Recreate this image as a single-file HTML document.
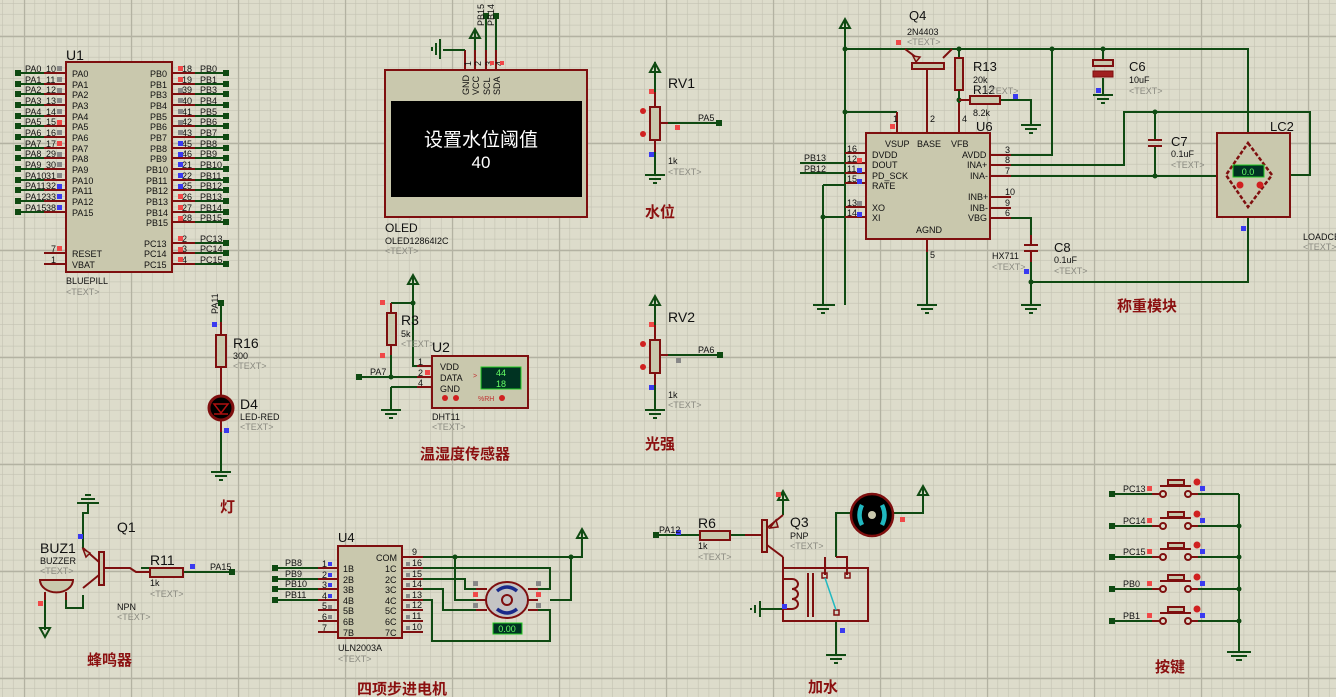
<!DOCTYPE html>
<html><head><meta charset="utf-8"><style>
html,body{margin:0;padding:0;width:1336px;height:697px;overflow:hidden;background:#dddccb}
svg{display:block}
text{font-family:"Liberation Sans","Noto Sans CJK SC",sans-serif}
.w{stroke:#0f4a12;stroke-width:2;fill:none}
.p{stroke:#7e0f0f;stroke-width:2;fill:none}
.b{stroke:#7e0f0f;stroke-width:2;fill:#c9c8ad}
.s{font-size:9px;fill:#111}
.m{font-size:10px;fill:#111}
.l{font-size:14px;fill:#111}
.t{font-size:9px;fill:#8a8a80}
.cn{font-size:15px;font-weight:bold;fill:#8b1010;font-family:"Liberation Sans","Noto Sans CJK SC",sans-serif}
.r{fill:#f04848}.bl{fill:#3a3af0}.g{fill:#888}
</style></head><body>
<svg width="1336" height="697" xmlns="http://www.w3.org/2000/svg">
<defs>
<pattern id="mn" width="10.7" height="10.7" patternUnits="userSpaceOnUse" x="3" y="4">
<path d="M10.7 0V10.7M0 10.7H10.7" stroke="#c3c2b2" stroke-width="1.2" fill="none"/></pattern>
<pattern id="mj" width="107" height="107" patternUnits="userSpaceOnUse" x="24" y="36">
<path d="M0 0V107M0 0H107" stroke="#b3b2a2" stroke-width="2.4" fill="none"/></pattern>
</defs>
<rect width="1336" height="697" fill="#dddccb"/>
<rect width="1336" height="697" fill="url(#mn)"/>
<rect width="1336" height="697" fill="url(#mj)"/>

<!-- ========== U1 BLUEPILL ========== -->
<text x="66" y="60" class="l">U1</text>
<rect x="66" y="62" width="106" height="210" class="b"/>
<g class="w">
<path d="M18 73H44M18 84H44M18 94H44M18 105H44M18 116H44M18 126H44M18 137H44M18 148H44M18 158H44M18 169H44M18 180H44M18 190H44M18 201H44M18 212H44"/>
<path d="M195 73H226M195 84H226M195 94H226M195 105H226M195 116H226M195 126H226M195 137H226M195 148H226M195 158H226M195 169H226M195 180H226M195 190H226M195 201H226M195 212H226M195 222H226M195 243H226M195 253H226M195 264H226"/>
</g>
<g class="p">
<path d="M44 73H66M44 84H66M44 94H66M44 105H66M44 116H66M44 126H66M44 137H66M44 148H66M44 158H66M44 169H66M44 180H66M44 190H66M44 201H66M44 212H66M44 253H66M44 264H66"/>
<path d="M172 73H195M172 84H195M172 94H195M172 105H195M172 116H195M172 126H195M172 137H195M172 148H195M172 158H195M172 169H195M172 180H195M172 190H195M172 201H195M172 212H195M172 222H195M172 243H195M172 253H195M172 264H195"/>
</g>
<g fill="#0f4a12">
<rect x="15" y="70" width="6" height="6"/><rect x="15" y="81" width="6" height="6"/><rect x="15" y="91" width="6" height="6"/><rect x="15" y="102" width="6" height="6"/><rect x="15" y="113" width="6" height="6"/><rect x="15" y="123" width="6" height="6"/><rect x="15" y="134" width="6" height="6"/><rect x="15" y="145" width="6" height="6"/><rect x="15" y="155" width="6" height="6"/><rect x="15" y="166" width="6" height="6"/><rect x="15" y="177" width="6" height="6"/><rect x="15" y="187" width="6" height="6"/><rect x="15" y="198" width="6" height="6"/><rect x="15" y="209" width="6" height="6"/>
<rect x="223" y="70" width="6" height="6"/><rect x="223" y="81" width="6" height="6"/><rect x="223" y="91" width="6" height="6"/><rect x="223" y="102" width="6" height="6"/><rect x="223" y="113" width="6" height="6"/><rect x="223" y="123" width="6" height="6"/><rect x="223" y="134" width="6" height="6"/><rect x="223" y="145" width="6" height="6"/><rect x="223" y="155" width="6" height="6"/><rect x="223" y="166" width="6" height="6"/><rect x="223" y="177" width="6" height="6"/><rect x="223" y="187" width="6" height="6"/><rect x="223" y="198" width="6" height="6"/><rect x="223" y="209" width="6" height="6"/><rect x="223" y="219" width="6" height="6"/><rect x="223" y="240" width="6" height="6"/><rect x="223" y="250" width="6" height="6"/><rect x="223" y="261" width="6" height="6"/>
</g>
<g class="s">
<text x="25" y="72">PA0</text><text x="25" y="83">PA1</text><text x="25" y="93">PA2</text><text x="25" y="104">PA3</text><text x="25" y="115">PA4</text><text x="25" y="125">PA5</text><text x="25" y="136">PA6</text><text x="25" y="147">PA7</text><text x="25" y="157">PA8</text><text x="25" y="168">PA9</text><text x="25" y="179">PA10</text><text x="25" y="189">PA11</text><text x="25" y="200">PA12</text><text x="25" y="211">PA15</text>
<text x="46" y="72">10</text><text x="46" y="83">11</text><text x="46" y="93">12</text><text x="46" y="104">13</text><text x="46" y="115">14</text><text x="46" y="125">15</text><text x="46" y="136">16</text><text x="46" y="147">17</text><text x="46" y="157">29</text><text x="46" y="168">30</text><text x="46" y="179">31</text><text x="46" y="189">32</text><text x="46" y="200">33</text><text x="46" y="211">38</text>
<text x="72" y="77">PA0</text><text x="72" y="88">PA1</text><text x="72" y="98">PA2</text><text x="72" y="109">PA3</text><text x="72" y="120">PA4</text><text x="72" y="130">PA5</text><text x="72" y="141">PA6</text><text x="72" y="152">PA7</text><text x="72" y="162">PA8</text><text x="72" y="173">PA9</text><text x="72" y="184">PA10</text><text x="72" y="194">PA11</text><text x="72" y="205">PA12</text><text x="72" y="216">PA15</text>
<text x="72" y="257">RESET</text><text x="72" y="268">VBAT</text><text x="51" y="252">7</text><text x="51" y="263">1</text>
<text x="150" y="77">PB0</text><text x="150" y="88">PB1</text><text x="150" y="98">PB3</text><text x="150" y="109">PB4</text><text x="150" y="120">PB5</text><text x="150" y="130">PB6</text><text x="150" y="141">PB7</text><text x="150" y="152">PB8</text><text x="150" y="162">PB9</text><text x="146" y="173">PB10</text><text x="146" y="184">PB11</text><text x="146" y="194">PB12</text><text x="146" y="205">PB13</text><text x="146" y="216">PB14</text><text x="146" y="226">PB15</text>
<text x="144" y="247">PC13</text><text x="144" y="257">PC14</text><text x="144" y="268">PC15</text>
<text x="182" y="72">18</text><text x="182" y="83">19</text><text x="182" y="93">39</text><text x="182" y="104">40</text><text x="182" y="115">41</text><text x="182" y="125">42</text><text x="182" y="136">43</text><text x="182" y="147">45</text><text x="182" y="157">46</text><text x="182" y="168">21</text><text x="182" y="179">22</text><text x="182" y="189">25</text><text x="182" y="200">26</text><text x="182" y="211">27</text><text x="182" y="221">28</text><text x="182" y="242">2</text><text x="182" y="252">3</text><text x="182" y="263">4</text>
<text x="200" y="72">PB0</text><text x="200" y="83">PB1</text><text x="200" y="93">PB3</text><text x="200" y="104">PB4</text><text x="200" y="115">PB5</text><text x="200" y="125">PB6</text><text x="200" y="136">PB7</text><text x="200" y="147">PB8</text><text x="200" y="157">PB9</text><text x="200" y="168">PB10</text><text x="200" y="179">PB11</text><text x="200" y="189">PB12</text><text x="200" y="200">PB13</text><text x="200" y="211">PB14</text><text x="200" y="221">PB15</text><text x="200" y="242">PC13</text><text x="200" y="252">PC14</text><text x="200" y="263">PC15</text>
<text x="66" y="284">BLUEPILL</text>
</g>
<text x="66" y="295" class="t">&lt;TEXT&gt;</text>
<g class="g"><rect x="57" y="66" width="5" height="5"/><rect x="57" y="77" width="5" height="5"/><rect x="57" y="88" width="5" height="5"/><rect x="57" y="98" width="5" height="5"/><rect x="57" y="109" width="5" height="5"/><rect x="57" y="130" width="5" height="5"/><rect x="57" y="152" width="5" height="5"/><rect x="57" y="162" width="5" height="5"/><rect x="57" y="173" width="5" height="5"/><rect x="178" y="88" width="5" height="5"/><rect x="178" y="98" width="5" height="5"/><rect x="178" y="109" width="5" height="5"/><rect x="178" y="120" width="5" height="5"/><rect x="178" y="130" width="5" height="5"/></g>
<g class="r"><rect x="57" y="120" width="5" height="5"/><rect x="57" y="141" width="5" height="5"/><rect x="57" y="246" width="5" height="5"/><rect x="178" y="66" width="5" height="5"/><rect x="178" y="77" width="5" height="5"/><rect x="178" y="194" width="5" height="5"/><rect x="178" y="205" width="5" height="5"/><rect x="178" y="216" width="5" height="5"/><rect x="178" y="236" width="5" height="5"/><rect x="178" y="247" width="5" height="5"/><rect x="178" y="257" width="5" height="5"/></g>
<g class="bl"><rect x="57" y="184" width="5" height="5"/><rect x="57" y="194" width="5" height="5"/><rect x="57" y="205" width="5" height="5"/><rect x="178" y="141" width="5" height="5"/><rect x="178" y="152" width="5" height="5"/><rect x="178" y="162" width="5" height="5"/><rect x="178" y="173" width="5" height="5"/><rect x="178" y="184" width="5" height="5"/></g>

<!-- ========== OLED ========== -->
<rect x="385" y="70" width="202" height="147" class="b"/>
<rect x="391" y="101" width="191" height="96" fill="#000"/>
<text x="481" y="146" text-anchor="middle" font-size="19" fill="#fff" font-family="'Noto Sans CJK SC',sans-serif">设置水位阈值</text>
<text x="481" y="168" text-anchor="middle" font-size="17" fill="#fff">40</text>
<g class="p"><path d="M465 50V70M475 50V70M486 50V70M496 50V70"/></g>
<g class="w"><path d="M465 50H443M436 43V55M440 39V59M432 47V51M475 50V30M486 50V16M496 50V16"/><path d="M470 38L475 29L480 38Z"/></g>
<rect x="483" y="13" width="6" height="6" fill="#0f4a12"/><rect x="493" y="13" width="6" height="6" fill="#0f4a12"/>
<g class="s"><text transform="translate(469,95) rotate(-90)">GND</text><text transform="translate(479,95) rotate(-90)">VCC</text><text transform="translate(490,95) rotate(-90)">SCL</text><text transform="translate(500,95) rotate(-90)">SDA</text>
<text transform="translate(484,26) rotate(-90)">PB15</text><text transform="translate(494,26) rotate(-90)">PB14</text>
<text transform="translate(471,66) rotate(-90)">1</text><text transform="translate(481,66) rotate(-90)">2</text><text transform="translate(492,66) rotate(-90)">3</text><text transform="translate(502,66) rotate(-90)">4</text></g>
<rect x="490" y="61" width="4" height="4" class="r"/><rect x="500" y="61" width="4" height="4" class="r"/>
<text x="385" y="232" font-size="12" fill="#111">OLED</text>
<text x="385" y="244" class="s">OLED12864I2C</text>
<text x="385" y="254" class="t">&lt;TEXT&gt;</text>

<!-- ========== RV1 ========== -->
<g class="w"><path d="M655 62V92M655 140V175M645 175H665M649 179H661M653 183H657M668 123H719"/><path d="M650 72L655 63L660 72Z"/></g>
<path d="M655 92V107M655 140V152M660 123H668" class="p"/>
<rect x="650" y="107" width="10" height="33" class="b"/>
<rect x="716" y="120" width="6" height="6" fill="#0f4a12"/>
<circle cx="643" cy="111" r="3" fill="#d02020"/><circle cx="643" cy="134" r="3" fill="#d02020"/>
<rect x="649" y="89" width="5" height="5" class="r"/><rect x="675" y="125" width="5" height="5" class="r"/><rect x="649" y="152" width="5" height="5" class="bl"/>
<text x="668" y="88" class="l">RV1</text><text x="698" y="121" class="s">PA5</text>
<text x="668" y="164" class="s">1k</text><text x="668" y="175" class="t">&lt;TEXT&gt;</text>
<text x="645" y="217" class="cn">水位</text>

<!-- ========== RV2 ========== -->
<g class="w"><path d="M655 297V325M655 373V410M645 410H665M649 414H661M653 418H657M668 355H720"/><path d="M650 305L655 296L660 305Z"/></g>
<path d="M655 325V340M655 372V385M660 355H668" class="p"/>
<rect x="650" y="340" width="10" height="33" class="b"/>
<rect x="717" y="352" width="6" height="6" fill="#0f4a12"/>
<circle cx="643" cy="344" r="3" fill="#d02020"/><circle cx="643" cy="367" r="3" fill="#d02020"/>
<rect x="649" y="322" width="5" height="5" class="r"/><rect x="649" y="385" width="5" height="5" class="bl"/><rect x="676" y="358" width="5" height="5" class="g"/>
<text x="668" y="322" class="l">RV2</text><text x="698" y="353" class="s">PA6</text>
<text x="668" y="398" class="s">1k</text><text x="668" y="408" class="t">&lt;TEXT&gt;</text>
<text x="645" y="449" class="cn">光强</text>

<!-- ========== R16 / D4 ========== -->
<g class="w"><path d="M221 303V322M221 430V472M211 472H231M215 476H227M219 480H223"/></g>
<rect x="218" y="300" width="6" height="6" fill="#0f4a12"/>
<path d="M221 322V335M221 367V396M221 420V432" class="p"/>
<rect x="216" y="335" width="10" height="32" class="b"/>
<circle cx="221" cy="408" r="12" fill="#000" stroke="#7e0f0f" stroke-width="3"/>
<path d="M214 404H228L221 413ZM214 414H228" stroke="#b01010" stroke-width="1.5" fill="none"/>
<rect x="212" y="322" width="5" height="5" class="bl"/><rect x="224" y="428" width="5" height="5" class="bl"/>
<text transform="translate(218,314) rotate(-90)" class="s">PA11</text>
<text x="233" y="348" class="l" font-size="13">R16</text><text x="233" y="359" class="s">300</text><text x="233" y="369" class="t">&lt;TEXT&gt;</text>
<text x="240" y="409" class="l" font-size="13">D4</text><text x="240" y="420" class="s">LED-RED</text><text x="240" y="430" class="t">&lt;TEXT&gt;</text>
<text x="220" y="512" class="cn">灯</text>

<!-- ========== R3 / U2 DHT11 ========== -->
<g class="w"><path d="M413 275V366H423M391 303H413M391 345V377M358 377H423M391 387H423M391 387V410M381 410H401M385 414H397M389 418H393"/><path d="M408 284L413 275L418 284Z"/></g>
<circle cx="413" cy="303" r="2.5" fill="#0f4a12"/><circle cx="391" cy="377" r="2.5" fill="#0f4a12"/>
<rect x="356" y="374" width="6" height="6" fill="#0f4a12"/>
<path d="M391 303V313M391 345V355M417 366H432M417 377H432M417 387H432" class="p"/>
<rect x="387" y="313" width="9" height="32" class="b"/>
<rect x="380" y="300" width="5" height="5" class="r"/><rect x="380" y="353" width="5" height="5" class="r"/><rect x="425" y="370" width="5" height="5" class="r"/>
<text x="401" y="325" class="l" font-size="13">R3</text><text x="401" y="337" class="s">5k</text><text x="401" y="347" class="t">&lt;TEXT&gt;</text>
<text x="370" y="375" class="s">PA7</text>
<text x="418" y="365" class="s">1</text><text x="418" y="376" class="s">2</text><text x="418" y="386" class="s">4</text>
<rect x="432" y="356" width="96" height="52" class="b"/>
<text x="432" y="352" class="l" font-size="13">U2</text>
<text x="440" y="370" class="s">VDD</text><text x="440" y="381" class="s">DATA</text><text x="440" y="392" class="s">GND</text>
<rect x="481" y="367" width="40" height="22" fill="#032" stroke="#2c2" stroke-width="1"/>
<text x="501" y="376" text-anchor="middle" font-size="9" fill="#6f6">44</text><text x="501" y="387" text-anchor="middle" font-size="9" fill="#6f6">18</text>
<circle cx="445" cy="398" r="3" fill="#d02020"/><circle cx="456" cy="398" r="3" fill="#d02020"/><circle cx="502" cy="398" r="3" fill="#d02020"/>
<text x="478" y="401" font-size="7" fill="#c03030">%RH</text><text x="473" y="378" font-size="7" fill="#c03030">&gt;</text>
<text x="432" y="420" class="s">DHT11</text><text x="432" y="430" class="t">&lt;TEXT&gt;</text>
<text x="420" y="459" class="cn">温湿度传感器</text>

<!-- ========== Weight module ========== -->
<g class="w">
<path d="M845 20V305M845 49H1248V133M845 112H897M815 305H835M827 305V305"/>
<path d="M840 28L845 19L850 28Z"/>
<path d="M959 49V58M959 90V103M1000 100H1031V125M1021 125H1041M1025 129H1037M1029 133H1033"/>
<path d="M1011 155H1052V49M1011 165H1124V112H1310V175H1290M1011 176H1217M1155 112V140M1155 146V176"/>
<path d="M1103 49V60M1103 78V95M1093 95H1113M1097 99H1109M1101 103H1105"/>
<path d="M800 163H845M800 173H845M823 185V305M823 217H845M823 185H845M813 305H833M817 309H829M821 313H825"/>
<path d="M927 250V305M917 305H937M921 309H933M925 313H929"/>
<path d="M1011 218H1031V245M1031 251V305M1021 305H1041M1025 309H1037M1029 313H1033M1031 282H1248V217"/>
</g>
<g fill="#0f4a12"><circle cx="845" cy="49" r="2.5"/><circle cx="845" cy="112" r="2.5"/><circle cx="959" cy="49" r="2.5"/><circle cx="1052" cy="49" r="2.5"/><circle cx="1103" cy="49" r="2.5"/><circle cx="959" cy="100" r="2.5"/><circle cx="1155" cy="112" r="2.5"/><circle cx="1155" cy="176" r="2.5"/><circle cx="823" cy="217" r="2.5"/><circle cx="1031" cy="282" r="2.5"/></g>
<g class="p">
<path d="M897 112V133M927 70V133M959 103V133M845 153H866M845 163H866M845 173H866M845 183H866M845 207H866M845 217H866M990 155H1011M990 165H1011M990 176H1011M990 197H1011M990 208H1011M990 218H1011M927 239V252"/>
<path d="M905 49L917 58M943 58L952 49M959 100H970M1031 235V245M1031 251V262"/>
<path d="M1024 245H1038M1024 251H1038M1148 140H1162M1148 146H1162"/>
</g>
<rect x="912" y="63" width="32" height="6" class="b"/>
<path d="M913 56L920 57L916 62Z" fill="#c9c8ad" stroke="#7e0f0f" stroke-width="1.5"/>
<rect x="955" y="58" width="8" height="32" class="b"/>
<rect x="970" y="96" width="30" height="8" class="b"/>
<rect x="1093" y="60" width="20" height="6" class="b"/>
<rect x="1093" y="71" width="20" height="6" fill="#a02020" stroke="#7e0f0f"/>
<rect x="866" y="133" width="124" height="106" class="b"/>
<g class="s">
<text x="909" y="20" font-size="13" fill="#111">Q4</text><text x="907" y="35">2N4403</text>
<text x="973" y="71" font-size="13">R13</text><text x="973" y="83">20k</text><text x="973" y="94" font-size="12">R12</text><text x="973" y="116">8.2k</text>
<text x="976" y="131" font-size="13">U6</text>
<text x="1129" y="71" font-size="13">C6</text><text x="1129" y="83">10uF</text>
<text x="1171" y="146" font-size="13">C7</text><text x="1171" y="157">0.1uF</text>
<text x="1054" y="252" font-size="13">C8</text><text x="1054" y="263">0.1uF</text>
<text x="992" y="259">HX711</text>
<text x="1270" y="131" font-size="13">LC2</text>
<text x="1303" y="240">LOADCE</text>
<text x="893" y="122">1</text><text x="930" y="122">2</text><text x="962" y="122">4</text><text x="930" y="258">5</text>
<text x="885" y="147">VSUP</text><text x="917" y="147">BASE</text><text x="951" y="147">VFB</text>
<text x="872" y="158">DVDD</text><text x="872" y="168">DOUT</text><text x="872" y="179">PD_SCK</text><text x="872" y="189">RATE</text><text x="872" y="211">XO</text><text x="872" y="221">XI</text><text x="916" y="233">AGND</text>
<text x="962" y="158">AVDD</text><text x="967" y="168">INA+</text><text x="970" y="179">INA-</text><text x="968" y="200">INB+</text><text x="970" y="211">INB-</text><text x="968" y="221">VBG</text>
<text x="847" y="152">16</text><text x="847" y="162">12</text><text x="847" y="172">11</text><text x="847" y="182">15</text><text x="847" y="206">13</text><text x="847" y="216">14</text>
<text x="1005" y="153">3</text><text x="1005" y="163">8</text><text x="1005" y="174">7</text><text x="1005" y="195">10</text><text x="1005" y="206">9</text><text x="1005" y="216">6</text>
<text x="804" y="161">PB13</text><text x="804" y="172">PB12</text>
</g>
<g class="t"><text x="907" y="45">&lt;TEXT&gt;</text><text x="1129" y="94">&lt;TEXT&gt;</text><text x="1171" y="168">&lt;TEXT&gt;</text><text x="1054" y="274">&lt;TEXT&gt;</text><text x="992" y="270">&lt;TEXT&gt;</text><text x="1303" y="250">&lt;TEXT&gt;</text><text x="985" y="94">&lt;TEXT&gt;</text></g>
<rect x="896" y="40" width="5" height="5" class="r"/><rect x="890" y="124" width="5" height="5" class="r"/><rect x="857" y="158" width="5" height="5" class="r"/>
<g class="bl"><rect x="857" y="168" width="5" height="5"/><rect x="857" y="179" width="5" height="5"/><rect x="857" y="212" width="5" height="5"/><rect x="1013" y="94" width="5" height="5"/><rect x="1096" y="88" width="5" height="5"/><rect x="1024" y="269" width="5" height="5"/><rect x="1241" y="226" width="5" height="5"/></g>
<rect x="857" y="201" width="5" height="5" class="g"/>
<rect x="1217" y="133" width="73" height="84" class="b"/>
<path d="M1248 143L1272 175L1248 207L1226 175Z" fill="none" stroke="#7e0f0f" stroke-width="2.5" stroke-dasharray="4 2"/>
<rect x="1233" y="165" width="31" height="12" fill="#032" stroke="#2c2"/>
<text x="1248" y="175" text-anchor="middle" font-size="9" fill="#6f6">0.0</text>
<circle cx="1240" cy="185" r="3.5" fill="#d02020"/><circle cx="1260" cy="185" r="3.5" fill="#d02020"/>
<text x="1117" y="311" class="cn">称重模块</text>

<!-- ========== Buzzer / Q1 ========== -->
<g class="w"><path d="M83 548V513H88V503M77 503H99M81 499H95M85 495H91M66 600V608H83V595M45 600V630M40 628L45 637L50 628Z"/><path d="M141 568H150M183 572H232"/></g>
<rect x="229" y="569" width="6" height="6" fill="#0f4a12"/>
<path d="M99 568H130L136 572H150M83 548L99 562M83 588L99 575M45 592V600M66 592V600" class="p"/>
<path d="M83 549L90 553L86 557Z" fill="#c9c8ad" stroke="#7e0f0f" stroke-width="1.5"/>
<rect x="99" y="552" width="5" height="33" class="b"/>
<path d="M40 580H73A16 12 0 0 1 40 580Z" class="b"/>
<rect x="150" y="568" width="33" height="9" class="b"/>
<rect x="78" y="534" width="5" height="5" class="bl"/><rect x="190" y="564" width="5" height="5" class="bl"/><rect x="38" y="601" width="5" height="5" class="r"/>
<text x="117" y="532" class="l" font-size="13">Q1</text>
<text x="40" y="553" class="l" font-size="13">BUZ1</text><text x="40" y="564" class="s">BUZZER</text><text x="40" y="574" class="t">&lt;TEXT&gt;</text>
<text x="150" y="565" class="l" font-size="13">R11</text><text x="150" y="586" class="s">1k</text><text x="150" y="597" class="t">&lt;TEXT&gt;</text>
<text x="117" y="610" class="s">NPN</text><text x="117" y="620" class="t">&lt;TEXT&gt;</text>
<text x="210" y="570" class="s">PA15</text>
<text x="87" y="665" class="cn">蜂鸣器</text>

<!-- ========== U4 ULN2003 + stepper ========== -->
<rect x="338" y="546" width="64" height="92" class="b"/>
<g class="w"><path d="M275 568H318M275 579H318M275 589H318M275 600H318"/>
<path d="M423 557H582V530M577 538L582 529L587 538Z"/>
<path d="M455 557V600H476M571 557V600H550"/>
<path d="M423 568H550V589H538M423 579H465V589H476M423 589H443V610H476M423 600H432V641H550V610H538"/></g>
<g fill="#0f4a12"><rect x="272" y="565" width="6" height="6"/><rect x="272" y="576" width="6" height="6"/><rect x="272" y="586" width="6" height="6"/><rect x="272" y="597" width="6" height="6"/><circle cx="455" cy="557" r="2.5"/><circle cx="571" cy="557" r="2.5"/></g>
<g class="p"><path d="M318 568H338M318 579H338M318 589H338M318 600H338M318 610H338M318 621H338M318 632H338M402 557H423M402 568H423M402 579H423M402 589H423M402 600H423M402 610H423M402 621H423M402 632H423M476 589H487M476 600H487M476 610H487M528 589H538M528 600H538M528 610H538"/></g>
<ellipse cx="507" cy="600" rx="21" ry="18" fill="#c4c4c4" stroke="#7e0f0f" stroke-width="2"/>
<circle cx="507" cy="600" r="5" fill="none" stroke="#7e0f0f" stroke-width="2"/>
<path d="M497 591Q507 583 517 591M497 609Q507 617 517 609" stroke="#1a2a8a" stroke-width="3.5" fill="none"/>
<rect x="493" y="623" width="29" height="11" fill="#032" stroke="#2c2"/>
<text x="507" y="632" text-anchor="middle" font-size="9" fill="#6f6">0.00</text>
<g class="g"><rect x="473" y="581" width="5" height="5"/><rect x="473" y="603" width="5" height="5"/><rect x="536" y="581" width="5" height="5"/><rect x="536" y="603" width="5" height="5"/><rect x="406" y="562" width="4" height="4"/><rect x="406" y="573" width="4" height="4"/><rect x="406" y="583" width="4" height="4"/><rect x="406" y="594" width="4" height="4"/><rect x="406" y="604" width="4" height="4"/><rect x="406" y="615" width="4" height="4"/><rect x="406" y="626" width="4" height="4"/><rect x="328" y="605" width="4" height="4"/><rect x="328" y="615" width="4" height="4"/></g>
<g class="r"><rect x="473" y="592" width="5" height="5"/><rect x="536" y="592" width="5" height="5"/></g>
<g class="bl"><rect x="328" y="562" width="4" height="4"/><rect x="328" y="573" width="4" height="4"/><rect x="328" y="583" width="4" height="4"/><rect x="328" y="594" width="4" height="4"/></g>
<g class="s">
<text x="338" y="542" font-size="13">U4</text>
<text x="285" y="566">PB8</text><text x="285" y="577">PB9</text><text x="285" y="587">PB10</text><text x="285" y="598">PB11</text>
<text x="322" y="567">1</text><text x="322" y="578">2</text><text x="322" y="588">3</text><text x="322" y="599">4</text><text x="322" y="609">5</text><text x="322" y="620">6</text><text x="322" y="631">7</text>
<text x="343" y="572">1B</text><text x="343" y="583">2B</text><text x="343" y="593">3B</text><text x="343" y="604">4B</text><text x="343" y="614">5B</text><text x="343" y="625">6B</text><text x="343" y="636">7B</text>
<text x="376" y="561">COM</text><text x="385" y="572">1C</text><text x="385" y="583">2C</text><text x="385" y="593">3C</text><text x="385" y="604">4C</text><text x="385" y="614">5C</text><text x="385" y="625">6C</text><text x="385" y="636">7C</text>
<text x="412" y="555">9</text><text x="412" y="566">16</text><text x="412" y="577">15</text><text x="412" y="587">14</text><text x="412" y="598">13</text><text x="412" y="608">12</text><text x="412" y="619">11</text><text x="412" y="630">10</text>
<text x="338" y="651">ULN2003A</text></g>
<text x="338" y="662" class="t">&lt;TEXT&gt;</text>
<text x="357" y="694" class="cn">四项步进电机</text>

<!-- ========== Relay / Q3 / fan ========== -->
<g class="w"><path d="M656 535H700M730 535H745M783 515V492M778 500L783 491L788 500Z"/>
<path d="M836 557V513H850M893 513H923V487M918 495L923 486L928 495Z"/>
<path d="M783 609H760M760 601V617M755 605V613M751 608V610M836 621V655M826 655H846M830 659H842M834 663H838"/></g>
<rect x="653" y="532" width="6" height="6" fill="#0f4a12"/>
<path d="M745 535H762M783 515L767 528M783 557L767 545V545M783 557V568M825 575V557M847 575V557H836" class="p"/>
<path d="M776 520L770 528L778 527Z" fill="#c9c8ad" stroke="#7e0f0f" stroke-width="1.5"/>
<rect x="700" y="531" width="30" height="9" class="b"/>
<rect x="762" y="520" width="5" height="32" class="b"/>
<rect x="783" y="568" width="85" height="53" fill="none" stroke="#7e0f0f" stroke-width="2"/>
<path d="M783 579H792A6 5 0 0 1 792 589A6 5 0 0 1 792 599A6 5 0 0 1 792 609H783M808 573V617M813 573V617" class="p"/>
<rect x="822" y="573" width="5" height="5" fill="none" stroke="#7e0f0f" stroke-width="1.5"/><rect x="845" y="573" width="5" height="5" fill="none" stroke="#7e0f0f" stroke-width="1.5"/><rect x="834" y="610" width="5" height="5" fill="none" stroke="#7e0f0f" stroke-width="1.5"/>
<path d="M825 578L836 610" stroke="#20b8c0" stroke-width="1.5"/>
<circle cx="872" cy="515" r="21" fill="#000" stroke="#7e0f0f" stroke-width="2.5"/>
<path d="M862 505Q857 515 862 525M882 505Q887 515 882 525" stroke="#20b8c0" stroke-width="4.5" fill="none"/>
<circle cx="872" cy="515" r="4" fill="#c9c8ad"/>
<rect x="776" y="492" width="5" height="5" class="r"/><rect x="900" y="517" width="5" height="5" class="r"/>
<rect x="676" y="530" width="5" height="5" class="bl"/><rect x="782" y="604" width="5" height="5" class="bl"/><rect x="840" y="628" width="5" height="5" class="bl"/>
<text x="659" y="533" class="s">PA12</text>
<text x="698" y="528" class="l" font-size="13">R6</text><text x="698" y="549" class="s">1k</text><text x="698" y="560" class="t">&lt;TEXT&gt;</text>
<text x="790" y="527" class="l" font-size="13">Q3</text><text x="790" y="539" class="s">PNP</text><text x="790" y="549" class="t">&lt;TEXT&gt;</text>
<text x="808" y="692" class="cn">加水</text>

<!-- ========== Buttons ========== -->
<g class="w"><path d="M1112 494H1152M1112 526H1152M1112 557H1152M1112 589H1152M1112 621H1152M1198 494H1239M1198 526H1239M1198 557H1239M1198 589H1239M1198 621H1239M1239 494V652M1227 652H1251M1231 656H1247M1236 660H1242"/></g>
<g fill="#0f4a12"><rect x="1109" y="491" width="6" height="6"/><rect x="1109" y="523" width="6" height="6"/><rect x="1109" y="554" width="6" height="6"/><rect x="1109" y="586" width="6" height="6"/><rect x="1109" y="618" width="6" height="6"/><circle cx="1239" cy="526" r="2.5"/><circle cx="1239" cy="557" r="2.5"/><circle cx="1239" cy="589" r="2.5"/><circle cx="1239" cy="621" r="2.5"/></g>
<g class="p"><path d="M1152 494H1160M1152 526H1160M1152 557H1160M1152 589H1160M1152 621H1160M1191 494H1198M1191 526H1198M1191 557H1198M1191 589H1198M1191 621H1198M1160 486H1191M1160 518H1191M1160 549H1191M1160 581H1191M1160 613H1191"/>
<circle cx="1163" cy="494" r="3"/><circle cx="1188" cy="494" r="3"/><circle cx="1163" cy="526" r="3"/><circle cx="1188" cy="526" r="3"/><circle cx="1163" cy="557" r="3"/><circle cx="1188" cy="557" r="3"/><circle cx="1163" cy="589" r="3"/><circle cx="1188" cy="589" r="3"/><circle cx="1163" cy="621" r="3"/><circle cx="1188" cy="621" r="3"/></g>
<g class="b" stroke-width="1.5"><rect x="1168" y="480" width="16" height="5"/><rect x="1168" y="512" width="16" height="5"/><rect x="1168" y="543" width="16" height="5"/><rect x="1168" y="575" width="16" height="5"/><rect x="1168" y="607" width="16" height="5"/></g>
<g fill="#d02020"><circle cx="1197" cy="482" r="3.5"/><circle cx="1197" cy="514" r="3.5"/><circle cx="1197" cy="545" r="3.5"/><circle cx="1197" cy="577" r="3.5"/><circle cx="1197" cy="609" r="3.5"/></g>
<g class="r"><rect x="1147" y="486" width="5" height="5"/><rect x="1147" y="518" width="5" height="5"/><rect x="1147" y="549" width="5" height="5"/><rect x="1147" y="581" width="5" height="5"/><rect x="1147" y="613" width="5" height="5"/></g>
<g class="bl"><rect x="1200" y="486" width="5" height="5"/><rect x="1200" y="518" width="5" height="5"/><rect x="1200" y="549" width="5" height="5"/><rect x="1200" y="581" width="5" height="5"/><rect x="1200" y="613" width="5" height="5"/></g>
<g class="s"><text x="1123" y="492">PC13</text><text x="1123" y="524">PC14</text><text x="1123" y="555">PC15</text><text x="1123" y="587">PB0</text><text x="1123" y="619">PB1</text></g>
<text x="1155" y="672" class="cn">按键</text>
</svg>
</body></html>
